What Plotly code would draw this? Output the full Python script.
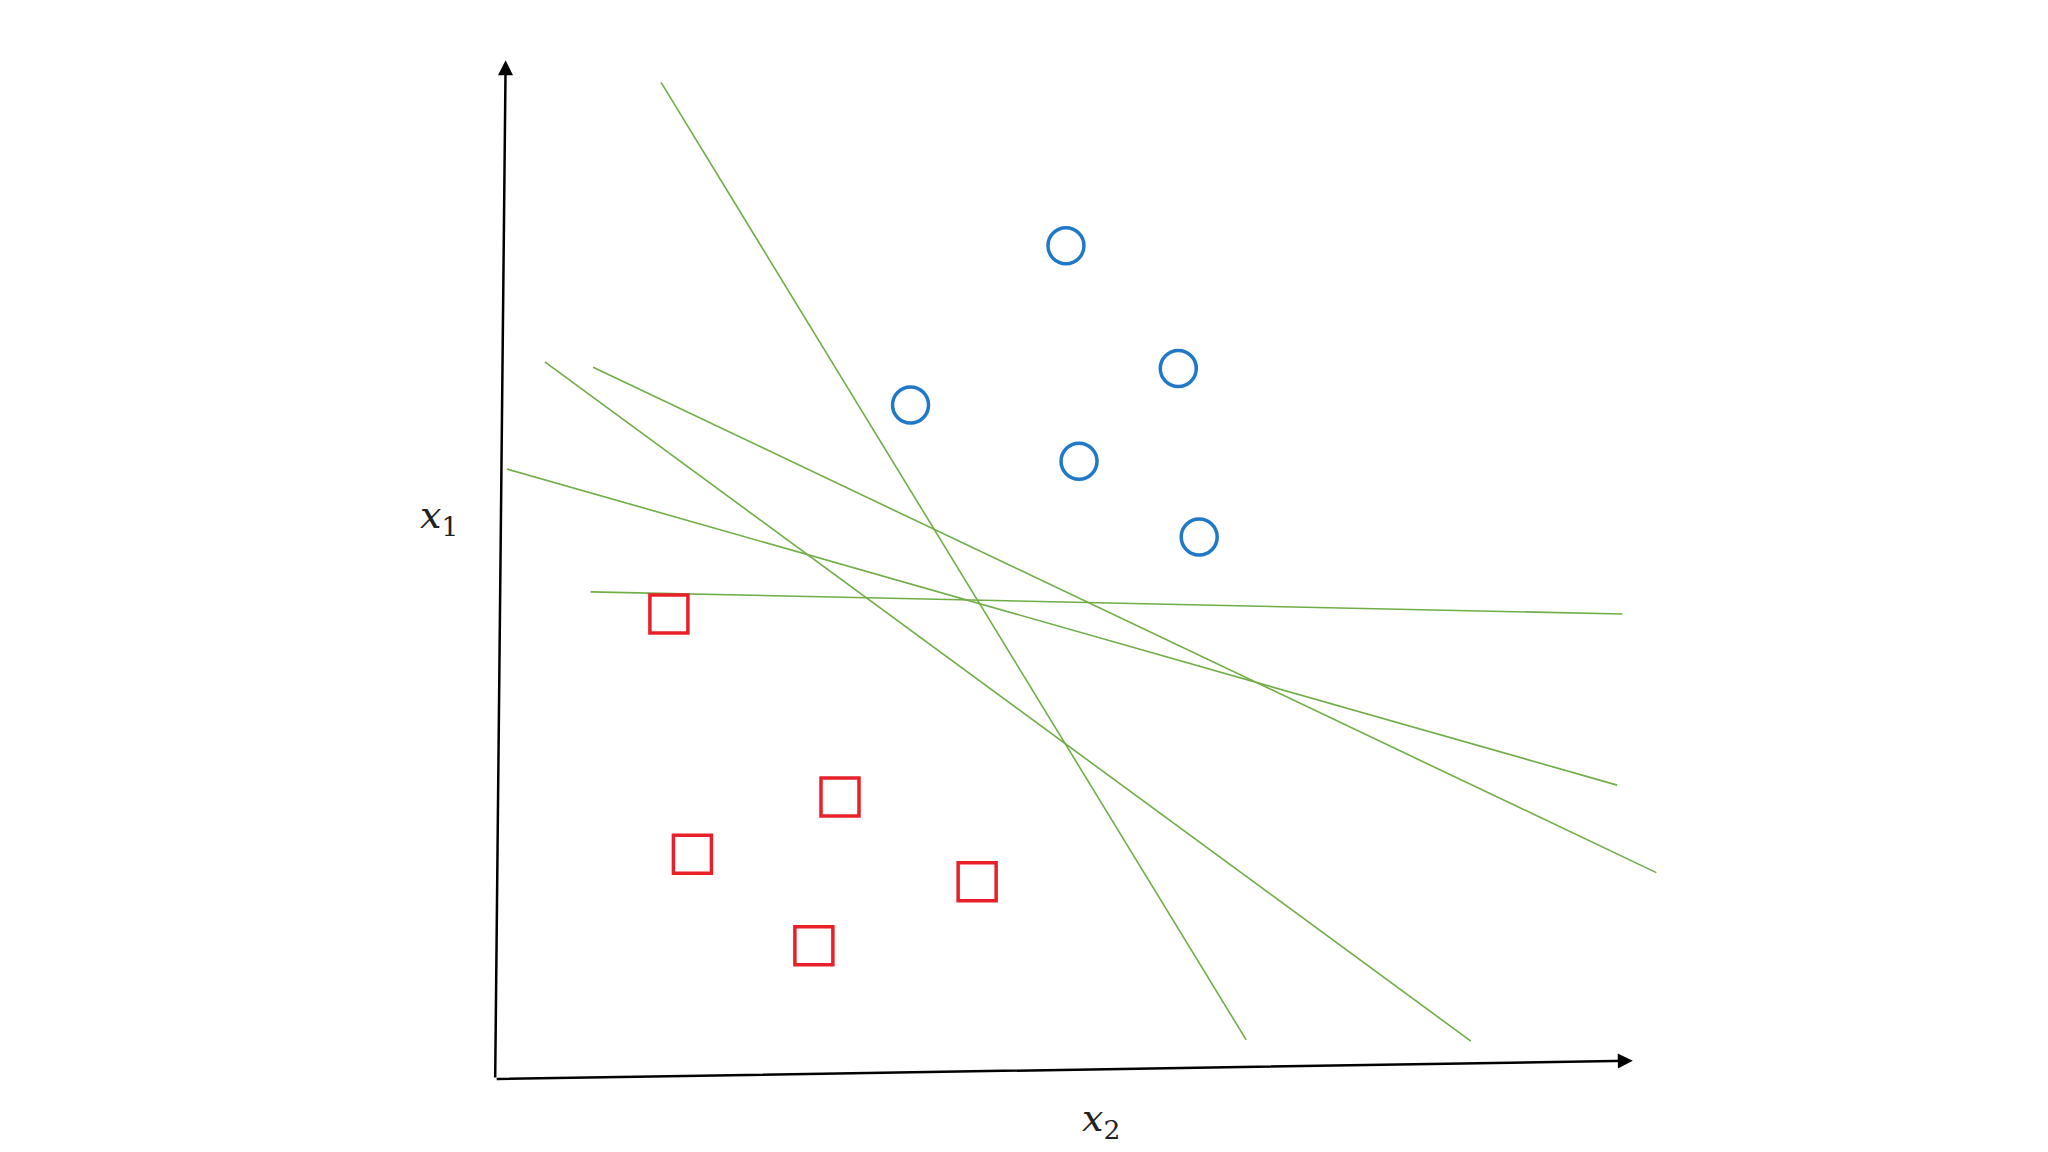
import plotly.graph_objects as go

# data in image-space units (x right, y down)
circle_x = [816, 902, 697, 826, 918]
circle_y = [187, 281, 309, 352, 410]
square_x = [512, 643, 530, 748, 623]
square_y = [469, 609, 653, 674, 723]
line_x0 = [506, 417, 454, 388, 452]
line_y0 = [62, 276, 280, 358, 452]
line_x1 = [954, 1126, 1268, 1238, 1242]
line_y1 = [795, 796, 667, 600, 469]
origin = (379, 825)
y_axis_end = (387, 45)
x_axis_end = (1250, 811)

fig = go.Figure()
for a, b, c, d in zip(line_x0, line_y0, line_x1, line_y1):
    fig.add_trace(go.Scatter(x=[a, c], y=[b, d], mode="lines",
                             line=dict(color="#70AD47", width=1.6), showlegend=False))
fig.add_trace(go.Scatter(x=circle_x, y=circle_y, mode="markers", showlegend=False,
                         marker=dict(symbol="circle-open", size=36, color="#1F78C8", line=dict(width=3.5))))
fig.add_trace(go.Scatter(x=square_x, y=square_y, mode="markers", showlegend=False,
                         marker=dict(symbol="square-open", size=38, color="#E8202A", line=dict(width=3.5))))

for end in (y_axis_end, x_axis_end):
    fig.add_annotation(x=end[0], y=end[1], ax=origin[0], ay=origin[1], xref="x", yref="y",
                       axref="x", ayref="y", showarrow=True, arrowhead=2, arrowsize=1.2,
                       arrowwidth=2.5, arrowcolor="black", text="")
fig.add_annotation(x=336, y=395, xref="x", yref="y", showarrow=False,
                   text="<i>x</i><sub>1</sub>", font=dict(family="DejaVu Serif", size=38, color="#222"))
fig.add_annotation(x=843, y=857, xref="x", yref="y", showarrow=False,
                   text="<i>x</i><sub>2</sub>", font=dict(family="DejaVu Serif", size=38, color="#222"))

fig.update_xaxes(range=[6, 1574], visible=False)
fig.update_yaxes(range=[887, 5], visible=False)
fig.update_layout(width=2048, height=1152, margin=dict(l=0, r=0, t=0, b=0),
                  plot_bgcolor="white", paper_bgcolor="white")
fig.write_html("out.html")
